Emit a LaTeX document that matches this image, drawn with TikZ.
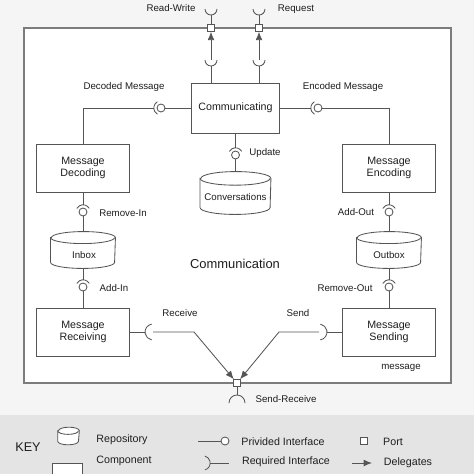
\documentclass[tikz,border=0pt]{standalone}
\usepackage{fontspec}
\setmainfont{Liberation Sans}
\usetikzlibrary{arrows.meta}
\definecolor{linegray}{HTML}{555555}
\definecolor{framegray}{HTML}{7C7C7C}
\definecolor{keygray}{HTML}{E4E4E4}
\definecolor{pagegray}{HTML}{F5F5F5}
\definecolor{textgray}{HTML}{1E1E1E}

\begin{document}
\begin{tikzpicture}[x=0.025cm,y=-0.025cm,line width=0.6pt,draw=linegray,text=textgray,
  comp/.style={draw=linegray,fill=white,minimum width=2.33cm,minimum height=1.2cm,align=center,inner sep=0pt,font=\fontsize{7.6}{9}\selectfont},
  repo/.style={minimum width=1.6cm,minimum height=0.9cm,inner sep=0pt},
  repotext/.style={inner sep=0pt,font=\fontsize{6.9}{8}\selectfont},
  port/.style={draw=linegray,fill=white,minimum size=0.17cm,inner sep=0pt,line width=0.5pt},
  ball/.style={circle,draw=linegray,fill=white,minimum size=0.2cm,inner sep=0pt},
  lbl/.style={inner sep=0pt,font=\fontsize{6.9}{8}\selectfont},
  keylbl/.style={inner sep=0pt,font=\fontsize{7.6}{9}\selectfont},
  deleg/.style={-{Latex[length=2.1mm,width=1.7mm]}}]
  \useasboundingbox (0,0) rectangle (474,474);
  \fill[pagegray] (0,0) rectangle (474,474);
  \fill[white] (24,28) rectangle (451,383);
  \fill[keygray] (0,415) rectangle (474,474);
  \draw[framegray,line width=1.4pt] (24,28) rectangle (451,383);

  \node[comp,minimum width=2.18cm,minimum height=1.25cm] (comm) at (235.5,108) {Communicating};
  \node[comp] (dec) at (83,168) {Message\\Decoding};
  \node[comp] (enc) at (389,168) {Message\\Encoding};
  \node[comp] (rcv) at (83,332) {Message\\Receiving};
  \node[comp] (snd) at (389,332) {Message\\Sending};
  \node[repo,minimum width=1.75cm,minimum height=1.05cm] (conv) at (235.5,193) {};
  \node[repo] (inbox) at (83,250) {};
  \node[repo] (outbox) at (389,250) {};
  \node[repo,minimum width=0.52cm,minimum height=0.42cm] (krepo) at (68.5,436) {};
  \foreach \n/\rx/\ry in {conv/0.875/0.17,inbox/0.8/0.15,outbox/0.8/0.15,krepo/0.26/0.09} {
    \draw[fill=white] ([yshift=-\ry cm]\n.north west) -- ([yshift=\ry cm]\n.south west)
      arc[start angle=180,end angle=360,x radius=\rx cm,y radius=\ry cm]
      -- ([yshift=-\ry cm]\n.north east)
      arc[start angle=0,end angle=180,x radius=\rx cm,y radius=\ry cm] -- cycle;
    \draw ([yshift=-\ry cm]\n.north west) arc[start angle=180,end angle=360,x radius=\rx cm,y radius=\ry cm];
  }
  \node[repotext] (tconv) at (235.5,197) {Conversations};
  \node[repotext] (tinbox) at (84,255) {Inbox};
  \node[repotext] (toutbox) at (389,255) {Outbox};
  \node[port] (prw) at (211,28) {};
  \node[port] (prq) at (259,28) {};
  \node[port] (psr) at (237,383) {};

  \node[ball] (bdec) at (161,108) {};
  \draw (comm.west) -- (bdec);
  \draw ([shift={(120:0.18cm)}]bdec.center) arc[start angle=120,end angle=240,radius=0.18cm];
  \draw ([xshift=-0.18cm]bdec.center) -| (dec.north);
  \node[ball] (benc) at (318,108) {};
  \draw ([shift={(120:0.18cm)}]benc.center) arc[start angle=120,end angle=240,radius=0.18cm];
  \draw (comm.east) -- ([xshift=-0.18cm]benc.center);
  \draw (benc) -| (enc.north);
  \node[ball] (bupd) at (235.5,155) {};
  \draw ([shift={(30:0.18cm)}]bupd.center) arc[start angle=30,end angle=150,radius=0.18cm];
  \draw (comm.south) -- ([yshift=0.18cm]bupd.center);
  \draw (bupd) -- (conv.north);
  \foreach \b/\up/\dn/\yb in {brmi/dec/inbox/212,badi/inbox/rcv/287,bado/enc/outbox/212,brmo/outbox/snd/287} {
    \node[ball] (\b) at (\up |- 0,\yb) {};
    \draw ([shift={(30:0.18cm)}]\b.center) arc[start angle=30,end angle=150,radius=0.18cm];
    \draw (\up.south) -- ([yshift=0.18cm]\b.center);
    \draw (\b) -- (\dn.north);
  }

  \foreach \p/\x in {prw/211,prq/259} {
    \coordinate (s\p) at (\x,60);
    \coordinate (x\p) at (\x,9);
    \draw (\p |- comm.north) -- ([yshift=-0.15cm]s\p);
    \draw ([shift={(180:0.15cm)}]s\p) arc[start angle=180,end angle=360,radius=0.15cm];
    \draw[deleg] (s\p) -- (\p);
    \draw (\p) -- ([yshift=-0.15cm]x\p);
    \draw ([shift={(180:0.15cm)}]x\p) arc[start angle=180,end angle=360,radius=0.15cm];
  }
  \coordinate (xsr) at (237,403);
  \draw (psr) -- ([yshift=0.2cm]xsr);
  \draw ([shift={(0:0.2cm)}]xsr) arc[start angle=0,end angle=180,radius=0.2cm];

  \coordinate (srcv) at (153,332);
  \coordinate (krcv) at (194,332);
  \draw (rcv.east) -- ([xshift=-0.2cm]srcv);
  \draw ([shift={(100:0.2cm)}]srcv) arc[start angle=100,end angle=260,radius=0.2cm];
  \draw[deleg] (srcv) -- (krcv) -- (psr);
  \coordinate (ssnd) at (319,332);
  \coordinate (ksnd) at (279,332);
  \draw (snd.west) -- ([xshift=0.2cm]ssnd);
  \draw ([shift={(-80:0.2cm)}]ssnd) arc[start angle=-80,end angle=80,radius=0.2cm];
  \draw[deleg] (ssnd) -- (ksnd) -- (psr);

  \node[lbl] (lrw) at (171,8) {Read-Write};
  \node[lbl] (lrq) at (296,9) {Request};
  \node[lbl] (ldm) at (124,87) {Decoded Message};
  \node[lbl] (lem) at (343,87) {Encoded Message};
  \node[lbl] (lup) at (265,153) {Update};
  \node[lbl] (lrmi) at (123,213) {Remove-In};
  \node[lbl] (ladi) at (114,288) {Add-In};
  \node[lbl] (lado) at (356,212) {Add-Out};
  \node[lbl] (lrmo) at (345,288) {Remove-Out};
  \node[lbl] (lrcv) at (180,313) {Receive};
  \node[lbl] (lsnd) at (298,313) {Send};
  \node[lbl] (lmsg) at (401,368) {message};
  \node[lbl] (lsr) at (286,399) {Send-Receive};
  \node[inner sep=0pt,font=\fontsize{9.2}{11}\selectfont] (lcom) at (235,264) {Communication};

  \node[inner sep=0pt,font=\fontsize{9}{11}\selectfont] (lkey) at (28,447) {KEY};
  \node[draw=linegray,fill=white,minimum width=0.75cm,minimum height=0.4cm,inner sep=0pt] (kcomp) at (67,471) {};
  \node[keylbl] (lkrepo) at (122,440) {Repository};
  \node[keylbl] (lkcomp) at (124,461) {Component};
  \node[ball] (kball) at (225,441) {};
  \coordinate (kprov) at (198,441);
  \draw (kprov) -- (kball);
  \coordinate (kreq) at (203,463);
  \coordinate (kreqe) at (229,463);
  \draw ([shift={(-75:0.18cm)}]kreq) arc[start angle=-75,end angle=75,radius=0.18cm];
  \draw ([xshift=0.18cm]kreq) -- (kreqe);
  \node[keylbl] (lkprov) at (283,442) {Privided Interface};
  \node[keylbl] (lkreq) at (286,462) {Required Interface};
  \node[port] (kport) at (363.5,441) {};
  \node[keylbl] (lkport) at (393,442) {Port};
  \coordinate (kdl) at (352,463);
  \coordinate (kdr) at (372,463);
  \draw[deleg] (kdl) -- (kdr);
  \node[keylbl] (lkdel) at (408,463) {Delegates};
\end{tikzpicture}
\end{document}
